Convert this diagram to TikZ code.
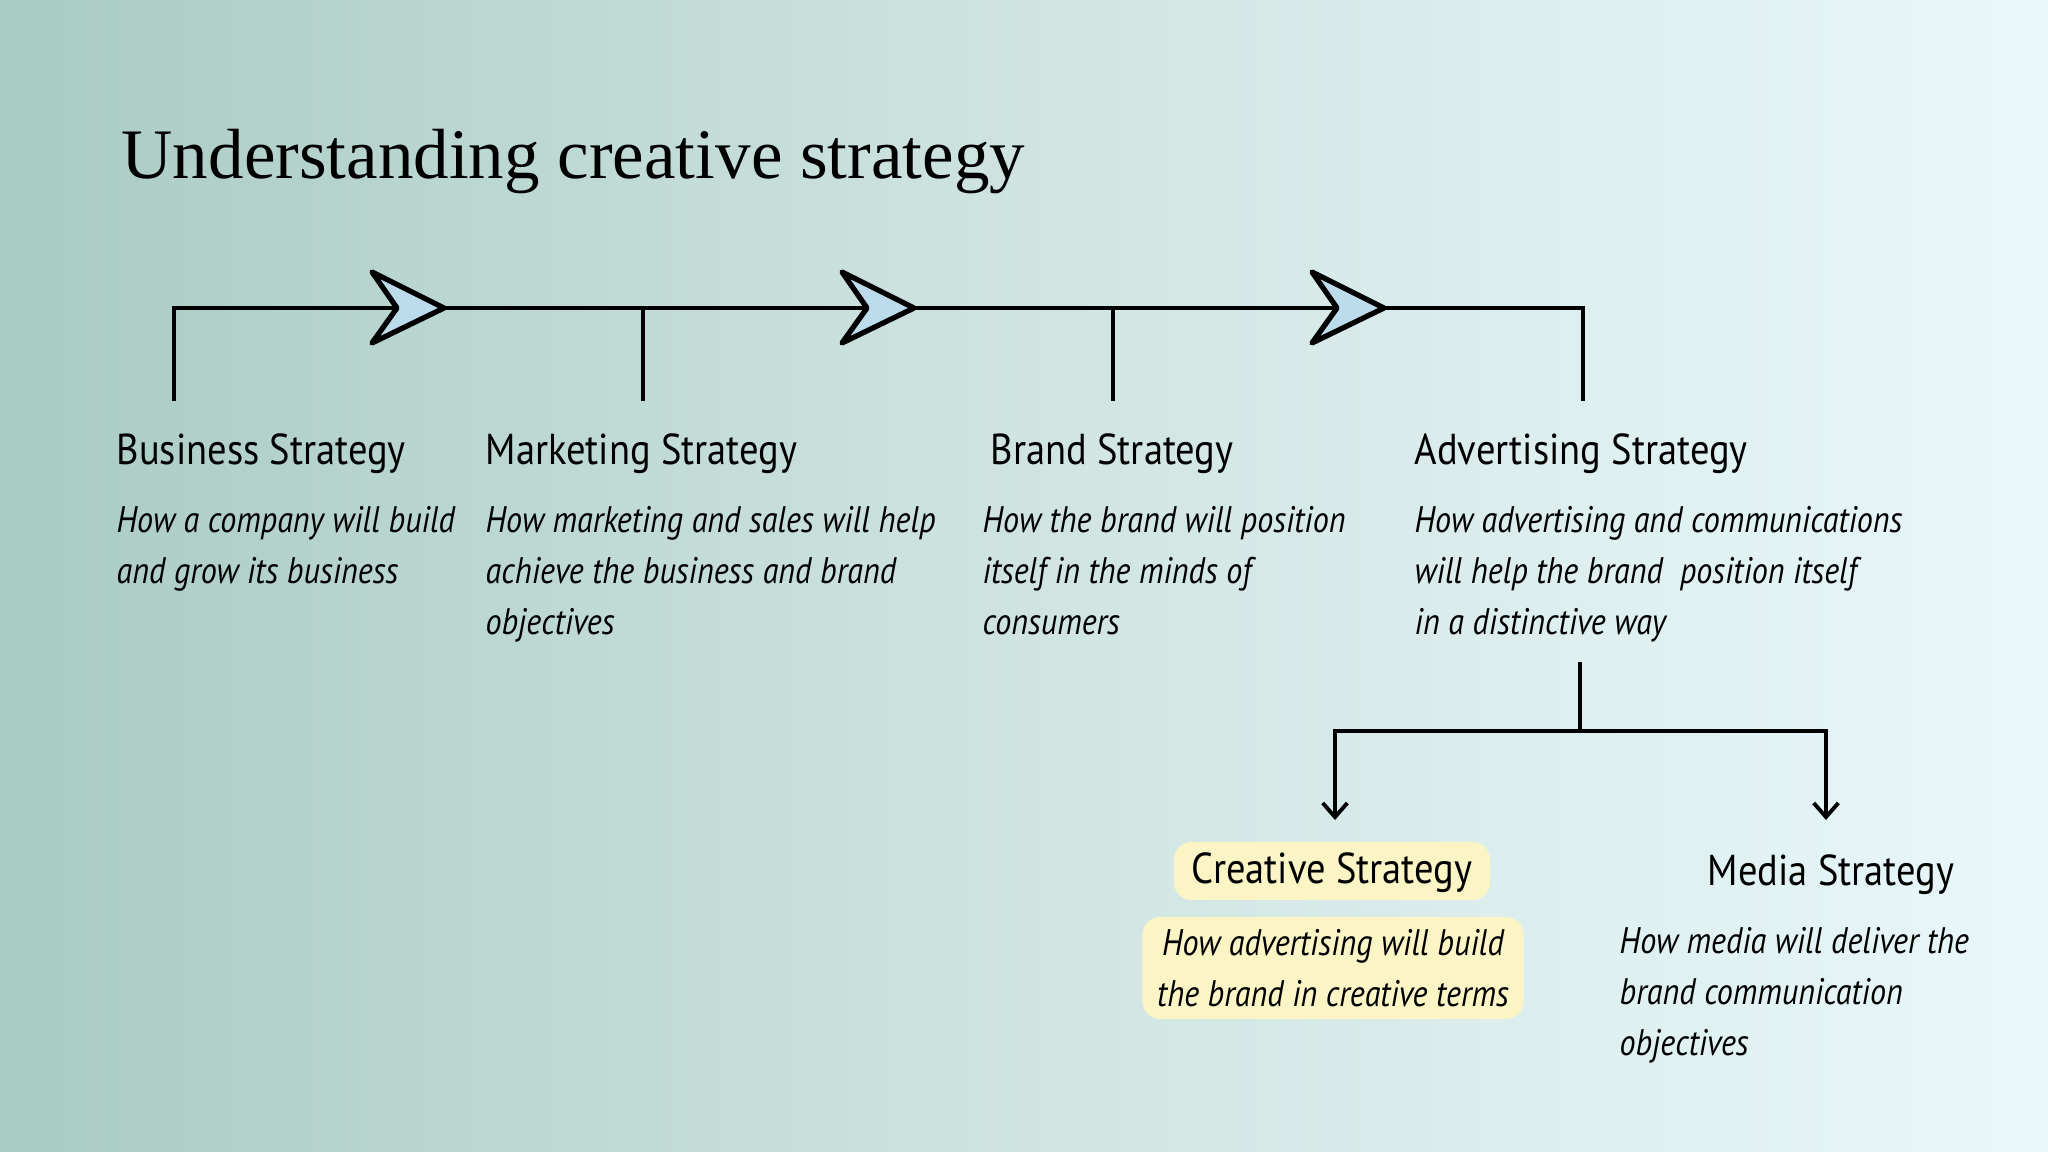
\documentclass[tikz,border=0pt]{standalone}
\usepackage{fontspec}
\setmainfont{Liberation Serif}
\newfontfamily\headfont[FakeStretch=0.89]{PT Sans}
\newfontfamily\descfont[FakeStretch=0.87]{PT Sans}
\usetikzlibrary{positioning, arrows.meta, calc}

\definecolor{bgleft}{HTML}{A9CBC3}
\definecolor{bgmid}{HTML}{CFE4E1}
\definecolor{bgright}{HTML}{E9F8FB}
\definecolor{chevfill}{HTML}{BCDCEC}
\definecolor{hilite}{HTML}{FBF5C6}

\newcommand\headsize{\headfont\fontsize{12.3}{15}\selectfont}
\newcommand\descsize{\descfont\itshape\fontsize{10.5}{14.5}\selectfont}

\tikzset{
  head/.style={inner sep=0, font=\headsize},
  desc/.style={inner sep=0, anchor=north west, align=left, font=\descsize},
  link/.style={line width=1.1pt},
  arrowlink/.style={link, -{Straight Barb[length=4pt, width=7pt]}},
  chevron/.style={line width=1.5pt, line join=round, fill=chevfill},
  marker/.style={fill=hilite, rounded corners=5pt, inner sep=0},
}

\begin{document}
\begin{tikzpicture}[x=0.01cm, y=-0.01cm]
  \shade[left color=bgleft, right color=bgright, middle color=bgmid] (0,0) rectangle (2048,1152);
  \useasboundingbox (0,0) rectangle (2048,1152);

  \node[anchor=base west, inner sep=0, font=\fontsize{20.2}{24}\selectfont] (title) at (121,179) {Understanding creative strategy};

  % timeline
  \foreach \n/\x in {1/174, 2/643, 3/1113, 4/1583} {
    \coordinate (top\n) at (\x,308);
    \coordinate (drop\n) at (\x,401);
  }
  \draw[link] (drop1) -- (top1) -- (top4) -- (drop4);
  \draw[link] (top2) -- (drop2) (top3) -- (drop3);
  \foreach \t in {444, 914, 1384}
    \draw[chevron] (\t,308) -- ++(-72,-36) -- ++(25,36) -- ++(-25,35) -- cycle;

  \node[head, anchor=base west] (bus) at (116,465) {Business Strategy};
  \node[head, anchor=base west] (mkt) at (485,465) {Marketing Strategy};
  \node[head, anchor=base west] (brd) at (990,465) {Brand Strategy};
  \node[head, anchor=base west] (adv) at (1414,465) {Advertising Strategy};

  \node[desc] (busd) at (116,506) {How a company will build\\and grow its business};
  \node[desc] (mktd) at (485,506) {How marketing and sales will help\\achieve the business and brand\\objectives};
  \node[desc] (brdd) at (982,506) {How the brand will position\\itself in the minds of\\consumers};
  \node[desc] (advd) at (1414,506) {How advertising and communications\\will help the brand\ \ position itself\\in a distinctive way};

  % split below advertising
  \coordinate (fork) at (1580,662);
  \coordinate (split) at (1580,731);
  \coordinate (cend) at (1335,820);
  \coordinate (mend) at (1826,820);
  \draw[link] (fork) -- (split);
  \draw[arrowlink] (split) -| (cend);
  \draw[arrowlink] (split) -| (mend);

  \node[marker, head, minimum width=3.16cm, minimum height=0.58cm, text depth=0.05cm] (cre) at (1332,871) {Creative Strategy};
  \node[marker, desc, anchor=center, align=center, minimum width=3.81cm, minimum height=1.02cm] (cred) at (1333,968) {How advertising will build\\the brand in creative terms};

  \node[head, anchor=base west] (med) at (1707,885) {Media Strategy};
  \node[desc] (medd) at (1619,927) {How media will deliver the\\brand communication\\objectives};
\end{tikzpicture}
\end{document}
